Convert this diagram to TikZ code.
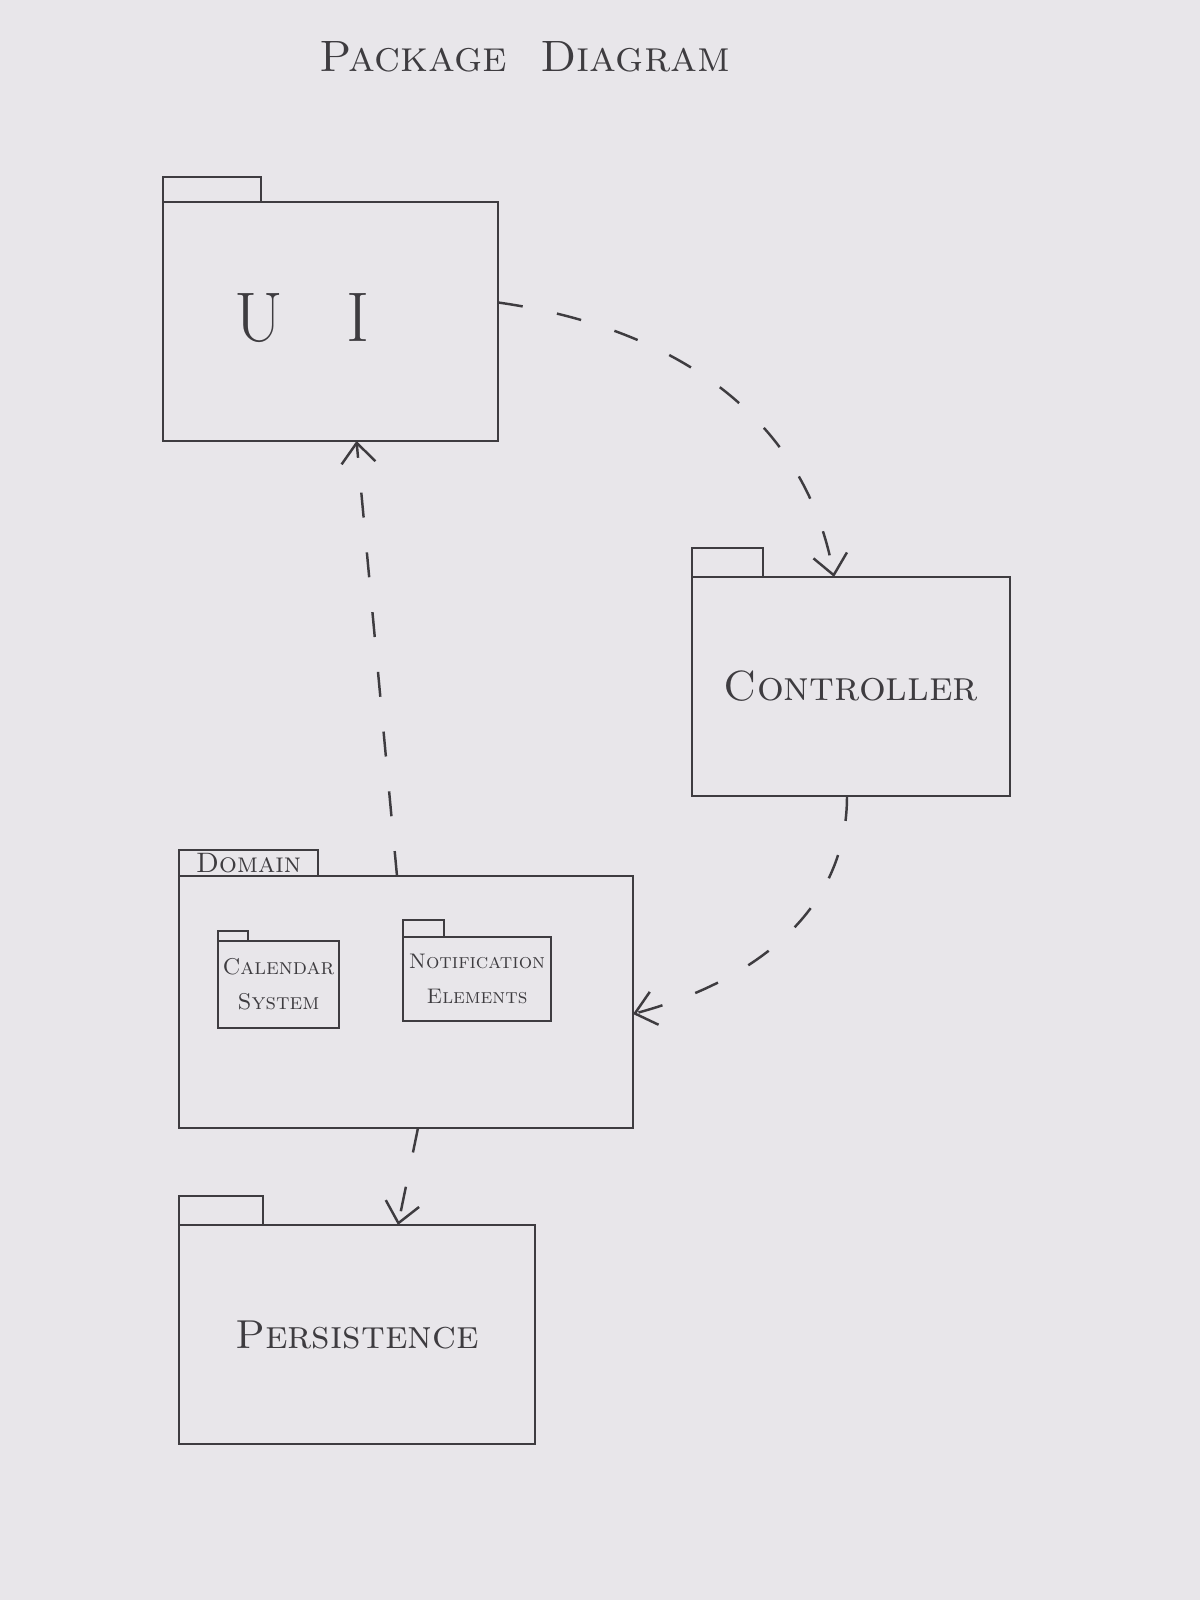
\documentclass[tikz,border=0pt]{standalone}
\usetikzlibrary{arrows.meta,positioning,calc}
\definecolor{pencil}{RGB}{62,60,64}
\definecolor{paper}{RGB}{232,230,234}

\begin{document}
\begin{tikzpicture}[
  pkg/.style={draw=pencil, line width=0.7pt, rectangle, inner sep=0pt, outer sep=0pt, text=pencil, align=center},
  tab/.style={draw=pencil, line width=0.7pt, rectangle, inner sep=0pt, outer sep=0pt, anchor=south west, text=pencil},
  dep/.style={draw=pencil, line width=0.7pt, dash pattern=on 2.5mm off 3.5mm, -{Straight Barb[length=2mm,width=3.4mm]}},
  hand/.style={text=pencil}
]
% papier
\fill[paper] (0,0) rectangle (12,16);
\useasboundingbox (0,0) rectangle (12,16);

% titel
\node[hand, font=\fontsize{12.5}{15}\selectfont\scshape] (title) at (5.25,15.43) {Package\ \ Diagram};

% UI
\node[pkg, minimum width=3.35cm, minimum height=2.39cm] (ui) at (3.305,12.785) {};
\node[tab, minimum width=0.98cm, minimum height=0.25cm] (uitab) at (ui.north west) {};
\node[hand, font=\fontsize{20}{24}\selectfont] (uilabel) at (3.02,12.82) {U\hspace{0.9em}I};

% Controller
\node[pkg, minimum width=3.18cm, minimum height=2.19cm, font=\fontsize{12}{14}\selectfont\scshape] (ctrl) at (8.51,9.135) {Controller};
\node[tab, minimum width=0.71cm, minimum height=0.29cm] (ctrltab) at (ctrl.north west) {};

% Domain
\node[pkg, minimum width=4.54cm, minimum height=2.52cm] (dom) at (4.06,5.98) {};
\node[tab, minimum width=1.39cm, minimum height=0.26cm, font=\fontsize{8}{9}\selectfont\scshape] (domtab) at (dom.north west) {Domain};
\node[pkg, minimum width=1.21cm, minimum height=0.87cm, font=\fontsize{6.5}{10}\selectfont\scshape] (cal) at (2.785,6.155) {Calendar\\System};
\node[tab, minimum width=0.30cm, minimum height=0.1cm] (caltab) at (cal.north west) {};
\node[pkg, minimum width=1.48cm, minimum height=0.84cm, font=\fontsize{6}{10}\selectfont\scshape] (notif) at (4.77,6.21) {Notification\\Elements};
\node[tab, minimum width=0.41cm, minimum height=0.17cm] (notiftab) at (notif.north west) {};

% Persistence
\node[pkg, minimum width=3.56cm, minimum height=2.19cm, font=\fontsize{11.5}{14}\selectfont\scshape] (pers) at (3.57,2.655) {Persistence};
\node[tab, minimum width=0.84cm, minimum height=0.29cm] (perstab) at (pers.north west) {};

% afhankelijkheden
\draw[dep] ([yshift=1.9mm]ui.east) to[out=-8, in=100] ([xshift=-1.7mm]ctrl.north);
\draw[dep] ([xshift=-0.9mm]dom.north) -- ([xshift=2.6mm]ui.south);
\draw[dep] ([xshift=-0.4mm]ctrl.south) to[out=-90, in=15] ([yshift=-1.2mm]dom.east);
\draw[dep] ([xshift=1.2mm]dom.south) -- ([xshift=4.1mm]pers.north);
\end{tikzpicture}
\end{document}
